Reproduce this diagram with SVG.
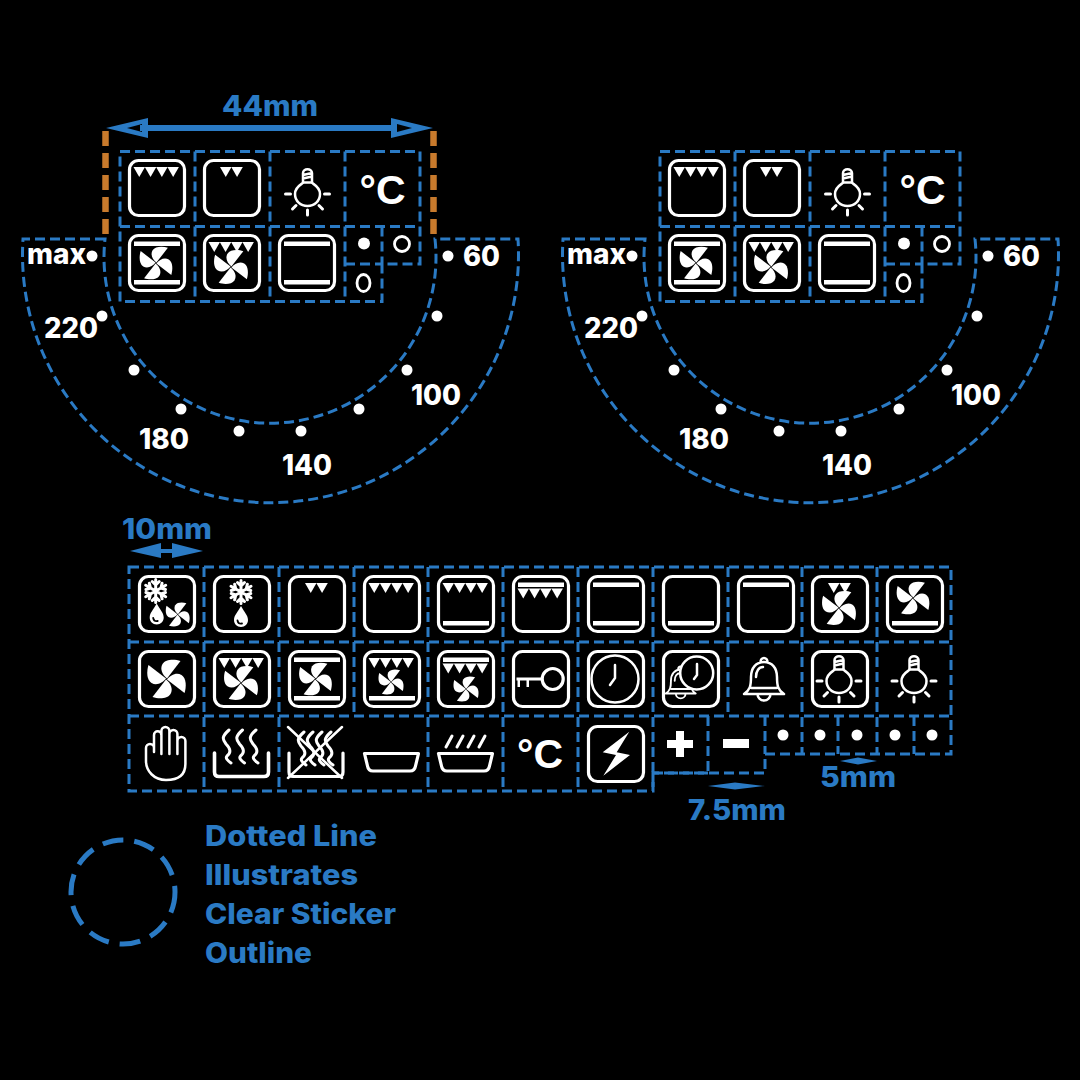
<svg xmlns="http://www.w3.org/2000/svg" width="1080" height="1080" viewBox="0 0 1080 1080">
<style>
.d{fill:none;stroke:#2a7ac4;stroke-width:3;stroke-dasharray:10 5}
.o{fill:none;stroke:#fff;stroke-width:3.200;stroke-linejoin:round;stroke-linecap:round}
.t{fill:none;stroke:#fff;stroke-width:2.500;stroke-linejoin:round;stroke-linecap:round}
.s{fill:none;stroke:#fff;stroke-width:3;stroke-linejoin:round;stroke-linecap:round}
.w{fill:#fff}
.b{fill:#2a7ac4}
.lb{font-family:"Inter","Liberation Sans",sans-serif;font-weight:800;fill:#fff;font-size:28px}
.bl{font-family:"Inter","Liberation Sans",sans-serif;font-weight:800;fill:#2a7ac4;font-size:28px}
.c{font-family:"Liberation Sans",sans-serif;font-weight:700;fill:#fff;font-size:41px;text-anchor:middle}
</style>
<defs>
<rect id="box" class="o" x="10.500" y="9.500" width="55" height="55" rx="9"/>
<path id="tri1" class="w" d="M0 0h11.500l-5.750 10z"/>
<g id="tri4"><use href="#tri1" x="14.500" y="16"/><use href="#tri1" x="25.800" y="16"/><use href="#tri1" x="37.100" y="16"/><use href="#tri1" x="48.400" y="16"/></g>
<g id="tri4b"><use href="#tri1" x="14.500" y="21.500"/><use href="#tri1" x="25.800" y="21.500"/><use href="#tri1" x="37.100" y="21.500"/><use href="#tri1" x="48.400" y="21.500"/></g>
<g id="tri2"><use href="#tri1" x="26" y="16"/><use href="#tri1" x="37.300" y="16"/></g>
<rect id="tbar" class="w" x="15" y="15.500" width="46" height="4.500"/>
<rect id="bbar" class="w" x="15" y="54" width="46" height="4.500"/>
<path id="blade" d="M.5 -.5L14 -18C8 -20 -1 -20 -4 -15C-7 -10 -4 -4 .5 -.5Z"/>
<g id="fan" class="w">
<use href="#blade"/><use href="#blade" transform="rotate(90)"/><use href="#blade" transform="rotate(180)"/><use href="#blade" transform="rotate(270)"/>
</g>
<g id="bulb">
<path class="t" d="M-4.500 -10.500C-4.500 -9 -12.500 -7 -12.500 1C-12.500 8 -7 13 0 13C7 13 12.500 8 12.500 1C12.500 -7 4.500 -9 4.500 -10.500"/>
<path class="t" d="M-4.500 -10.500V-20C-4.500 -25 4.500 -25 4.500 -20V-10.500ZM-4.500 -18L4.500 -20M-4.500 -14.500L4.500 -16.500"/>
<path class="s" d="M-22 1H-17M17 1H22M-15 16L-11.500 12.500M15 16L11.500 12.500M0 17V22"/>
</g>
<g id="bell">
<path class="t" d="M-20 14C-14 10 -13 6 -13 -3C-13 -12 -8 -18 0 -18C8 -18 13 -12 13 -3C13 6 14 10 20 14ZM-12.500 8H12.500M-6.500 14A6.500 6.500 0 0 0 6.500 14M-3.500 -18A3.500 4 0 0 1 3.500 -18M-8 -3C-8 -9 -5 -13 -1 -13"/>
</g>
<g id="snow">
<path class="s" d="M0 -11.500V11.500M-10 -5.700L10 5.700M-10 5.700L10 -5.700M-3.500 -9.500L0 -6L3.500 -9.500M-3.500 9.500L0 6L3.500 9.500M-9.800 -1.500L-5.200 -3L-6.400 -7.800M9.800 1.500L5.200 3L6.400 7.800M-9.800 1.500L-5.200 3L-6.400 7.800M9.800 -1.500L5.200 -3L6.400 -7.800"/>
</g>
<g id="drop">
<path class="w" d="M0 -11C3 -5 7 -2 7 3C7 7 4 10 0 10C-4 10 -7 7 -7 3C-7 -2 -3 -5 0 -11Z"/>
<path d="M-3.500 3.500C-3 6 -1.500 7 1 6.500" fill="none" stroke="#000" stroke-width="1.800" stroke-linecap="round"/>
</g>
<path id="steam" class="s" d="M1 0C-6 6 -6 9 -2 14C3 19 3 23 -1 26C-3 28 0 31 3 33"/>
<path id="tray" class="o" d="M10.500 37.500H64.500L61.500 50C61 53 59 55 56 55H19C16 55 14 53 13.500 50Z"/>
<g id="pair">
<path class="d" d="M120 151.500H420V264H382V301.500H120ZM195 151.500V301.500M270 151.500V301.500M345 151.500V301.500M120 226.500H420M382 226.500V264M345 264H382"/>
<path class="d" d="M105 239H23A248 248 0 1 0 518 239H435A166 166 0 1 1 105 239Z"/>
<g transform="translate(119 151)"><use href="#box"/><use href="#tri4"/></g>
<g transform="translate(194 151)"><use href="#box"/><use href="#tri2"/></g>
<use href="#bulb" x="307.500" y="193"/>
<text class="c" x="382.500" y="204">°C</text>
<g transform="translate(119 226)"><use href="#box"/><use href="#tbar"/><use href="#bbar"/><use href="#fan" transform="translate(37 37) scale(.85)"/></g>
<g transform="translate(194 226)"><use href="#box"/><use href="#tri4"/><use href="#fan" transform="translate(37 41) scale(.88)"/></g>
<g transform="translate(269 226)"><use href="#box"/><use href="#tbar"/><use href="#bbar"/></g>
<circle class="w" cx="364" cy="243.500" r="6"/>
<circle cx="402" cy="244" r="7.500" fill="none" stroke="#fff" stroke-width="2.800"/>
<ellipse cx="363.500" cy="283" rx="6.500" ry="8.500" fill="none" stroke="#fff" stroke-width="2.800"/>
<g class="w">
<circle cx="92" cy="256" r="5.500"/><circle cx="448" cy="256" r="5.500"/><circle cx="102" cy="316" r="5.500"/><circle cx="437" cy="316" r="5.500"/><circle cx="134" cy="370" r="5.500"/><circle cx="407" cy="370" r="5.500"/><circle cx="181" cy="409" r="5.500"/><circle cx="359" cy="409" r="5.500"/><circle cx="239" cy="431" r="5.500"/><circle cx="301" cy="431" r="5.500"/>
</g>
</g>
</defs>
<rect width="1080" height="1080" fill="#000"/>

<g id="sticker-left">
<use href="#pair"/>
<text class="lb" x="27" y="264">max</text><text class="lb" x="463" y="266" textLength="37" lengthAdjust="spacingAndGlyphs">60</text><text class="lb" x="44" y="338" textLength="54" lengthAdjust="spacingAndGlyphs">220</text><text class="lb" x="411" y="405" textLength="50" lengthAdjust="spacingAndGlyphs">100</text><text class="lb" x="139" y="449" textLength="50" lengthAdjust="spacingAndGlyphs">180</text><text class="lb" x="282" y="475" textLength="50" lengthAdjust="spacingAndGlyphs">140</text>
</g>

<g id="sticker-right">
<use href="#pair" x="540"/>
<text class="lb" x="567" y="264">max</text><text class="lb" x="1003" y="266" textLength="37" lengthAdjust="spacingAndGlyphs">60</text><text class="lb" x="584" y="338" textLength="54" lengthAdjust="spacingAndGlyphs">220</text><text class="lb" x="951" y="405" textLength="50" lengthAdjust="spacingAndGlyphs">100</text><text class="lb" x="679" y="449" textLength="50" lengthAdjust="spacingAndGlyphs">180</text><text class="lb" x="822" y="475" textLength="50" lengthAdjust="spacingAndGlyphs">140</text>
</g>

<g id="dimension-44mm">
<path d="M105.500 131V234M433.500 131V234" fill="none" stroke="#c87a2c" stroke-width="6.500" stroke-dasharray="15 7"/>
<path d="M140 128H396" stroke="#2a7ac4" stroke-width="6" fill="none"/>
<path fill-rule="evenodd" class="b" d="M106 128L148 118V138ZM127 128L142 132V124ZM433 128L391 118V138ZM412 128L397 132V124Z"/>
<text class="bl" x="222" y="116" textLength="96" lengthAdjust="spacingAndGlyphs">44mm</text>
</g>

<g id="sheet-outlines">
<path class="d" d="M129 567H951V754H765V773H653V791H129Z"/>
<path class="d" d="M129 642H951M129 716H951M204 567V791M279 567V791M354 567V716M428 567V791M503 567V791M578 567V791M653 567V791M728 567V716M802 567V754M877 567V754M708 716V773M765 716V754M838 716V754M914 716V754M653 773H708"/>
</g>

<g id="sheet-row1">
<g transform="translate(129 567)"><use href="#box"/><use href="#snow" transform="translate(26.700 24)"/><use href="#drop" transform="translate(27.700 47.500)"/><use href="#fan" transform="translate(48.700 47.500) scale(.62)"/></g>
<g transform="translate(204 567)"><use href="#box"/><use href="#snow" transform="translate(37 25)"/><use href="#drop" transform="translate(37 50)"/></g>
<g transform="translate(279 567)"><use href="#box"/><use href="#tri2"/></g>
<g transform="translate(354 567)"><use href="#box"/><use href="#tri4"/></g>
<g transform="translate(428 567)"><use href="#box"/><use href="#tri4"/><use href="#bbar"/></g>
<g transform="translate(503 567)"><use href="#box"/><use href="#tbar"/><use href="#tri4b"/></g>
<g transform="translate(578 567)"><use href="#box"/><use href="#tbar"/><use href="#bbar"/></g>
<g transform="translate(653 567)"><use href="#box"/><use href="#bbar"/></g>
<g transform="translate(728 567)"><use href="#box"/><use href="#tbar"/></g>
<g transform="translate(802 567)"><use href="#box"/><use href="#tri2"/><use href="#fan" transform="translate(37 41) scale(.88)"/></g>
<g transform="translate(877 567)"><use href="#box"/><use href="#bbar"/><use href="#fan" transform="translate(36 31) scale(.85)"/></g>
</g>

<g id="sheet-row2">
<g transform="translate(129 642)"><use href="#box"/><use href="#fan" transform="translate(37.500 37)"/></g>
<g transform="translate(204 642)"><use href="#box"/><use href="#tri4"/><use href="#fan" transform="translate(37 41) scale(.88)"/></g>
<g transform="translate(279 642)"><use href="#box"/><use href="#tbar"/><use href="#bbar"/><use href="#fan" transform="translate(36.500 37) scale(.85)"/></g>
<g transform="translate(354 642)"><use href="#box"/><use href="#tri4"/><use href="#bbar"/><use href="#fan" transform="translate(37 40) scale(.65)"/></g>
<g transform="translate(428 642)"><use href="#box"/><use href="#tbar"/><use href="#tri4b"/><use href="#fan" transform="translate(38 47) scale(.65)"/></g>
<g transform="translate(503 642)"><use href="#box"/><circle class="o" cx="49.700" cy="37" r="10.500"/><path class="w" d="M13.500 35.500H39.500V38.500H26V45H23.500V38.500H17V45H14.500V38.500H13.500Z"/></g>
<g transform="translate(578 642)"><use href="#box"/><circle class="t" cx="37" cy="37" r="23.500"/><path class="t" d="M37 23V36L32 43"/></g>
<g transform="translate(653 642)"><use href="#box"/><use href="#bell" transform="translate(27.700 41) scale(.75)"/><circle cx="43.700" cy="31" r="16.500" fill="#000" stroke="#fff" stroke-width="2.500"/><path class="t" d="M44 22V33L41 37"/></g>
<g transform="translate(728 642)"><use href="#bell" transform="translate(36 38)"/></g>
<g transform="translate(802 642)"><use href="#box"/><use href="#bulb" x="37" y="38"/></g>
<g transform="translate(877 642)"><use href="#bulb" x="37" y="38"/></g>
</g>

<g id="sheet-row3">
<g transform="translate(129 716)"><path class="t" d="M25 36V19a3.700 3.700 0 0 1 7.400 0V15a4 4 0 0 1 8 0V18a4 4 0 0 1 8 0V25a4 4 0 0 1 8 0V48C56.400 58 50 64 37 64C25 64 17 55 17 45V32a4 4 0 0 1 8 0V36M32.400 19V38M40.400 15V38M48.400 18V38"/></g>
<g transform="translate(204 716)"><path class="o" style="stroke-width:3.600" d="M10.500 37V56C10.500 59 12 60.500 15 60.500H60C63 60.500 64.500 59 64.500 56V37"/><use href="#steam" x="24" y="14"/><use href="#steam" x="37.500" y="14"/><use href="#steam" x="51" y="14"/></g>
<g transform="translate(279 716)"><path class="o" d="M10 37V56C10 59 11 60.500 14 60.500H60C63 60.500 64 59 64 56V37"/><use href="#steam" x="24" y="16"/><use href="#steam" x="33" y="16"/><use href="#steam" x="42" y="16"/><use href="#steam" x="51" y="16"/><path class="t" d="M9 11L63 62M63 11L9 62"/></g>
<g transform="translate(354 716)"><use href="#tray"/></g>
<g transform="translate(428 716)"><use href="#tray"/><path class="s" d="M18 31L24 20M29 31L35 20M40 31L46 20M51 31L57 20"/></g>
<text class="c" x="540" y="768">°C</text>
<g transform="translate(578 716)"><rect class="o" x="10.500" y="10.500" width="55" height="55" rx="9"/><path class="w" d="M51.300 15.700L24.700 36.300L38 39L25.300 59.700L52 39L38.700 36.300Z"/></g>
<path class="w" d="M676 731H684V740H693V748H684V757H676V748H667V740H676Z"/>
<rect class="w" x="723" y="739" width="26" height="9"/>
<g class="w"><circle cx="783" cy="735" r="5.500"/><circle cx="820" cy="735" r="5.500"/><circle cx="857" cy="735" r="5.500"/><circle cx="895" cy="735" r="5.500"/><circle cx="932" cy="735" r="5.500"/></g>
</g>

<g id="dimensions">
<text class="bl" x="122" y="539" textLength="90" lengthAdjust="spacingAndGlyphs">10mm</text>
<path class="b" d="M130 551L161 543V549H172V543L203 551L172 558V553H161V558Z"/>
<path class="b" d="M708 786L735 782.500L765 786L735 789.500Z"/>
<text class="bl" x="688" y="820" textLength="98" lengthAdjust="spacingAndGlyphs">7.5mm</text>
<path class="b" d="M840 761L858 757.500L877 761L858 764.500Z"/>
<text class="bl" x="820" y="787" textLength="76" lengthAdjust="spacingAndGlyphs">5mm</text>
</g>

<g id="legend">
<circle cx="123" cy="892" r="52" fill="none" stroke="#2a7ac4" stroke-width="5" stroke-dasharray="21 11"/>
<text class="bl" x="205" y="846" textLength="172" lengthAdjust="spacingAndGlyphs">Dotted Line</text>
<text class="bl" x="205" y="885" textLength="153" lengthAdjust="spacingAndGlyphs">Illustrates</text>
<text class="bl" x="205" y="924" textLength="191" lengthAdjust="spacingAndGlyphs">Clear Sticker</text>
<text class="bl" x="205" y="963" textLength="107" lengthAdjust="spacingAndGlyphs">Outline</text>
</g>
</svg>
